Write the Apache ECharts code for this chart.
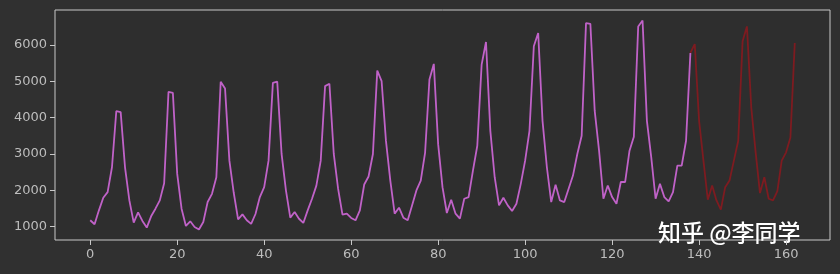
<!DOCTYPE html>
<html>
<head>
<meta charset="utf-8">
<script src="https://cdn.jsdelivr.net/npm/echarts@6/dist/echarts.min.js"></script>
<style>
html,body{margin:0;padding:0;background:#303030;}
#c{width:840px;height:274px;}
</style>
</head>
<body>
<div id="c"></div>
<script>
// observed series (index 0..138)
const trainValues = [
1178,1068,1451,1797,1952,2635,4180,4152,2635,1724,
1114,1396,1160,977,1287,1496,1724,2197,4710,4681,
2453,1496,1023,1150,995,923,1130,1680,1905,2360,
4985,4800,2817,1934,1205,1340,1180,1080,1350,1815,
2090,2817,4955,4990,3000,2000,1250,1405,1220,1105,
1450,1770,2130,2817,4865,4930,3000,2040,1332,1360,
1241,1178,1451,2161,2380,2999,5290,5000,3360,2270,
1360,1524,1250,1178,1587,1997,2270,3040,5050,5476,
3270,2088,1378,1742,1360,1223,1770,1815,2543,3226,
5458,6077,3637,2361,1587,1797,1587,1433,1633,2179,
2817,3637,5959,6323,3910,2635,1679,2152,1724,1679,
2043,2407,2999,3500,6597,6578,4183,3090,1770,2134,
1815,1633,2230,2230,3090,3473,6506,6670,3910,2908,
1770,2179,1815,1697,1952,2680,2680,3363,5776
];
// second series (index 138..162)
const testStart = 138;
const testValues = [
5776,6022,3910,2817,1742,2134,1724,1469,2088,2270,
2817,3363,6096,6506,4270,3050,1924,2361,1770,1724,
1979,2817,3045,3455,6050
];
const xTicks = [0,20,40,60,80,100,120,140,160];
const yTicks = [1000,2000,3000,4000,5000,6000];

const trainData = trainValues.map((v,i)=>[i,v]);
const testData = testValues.map((v,i)=>[testStart+i,v]);

const lastIndex = testStart + testValues.length - 1;
const allVals = trainValues.concat(testValues);
const yMinD = Math.min(...allVals), yMaxD = Math.max(...allVals);
const yPad = (yMaxD - yMinD) * 0.05;
const xPad = lastIndex * 0.05;

const chart = echarts.init(document.getElementById('c'));
const labelStyle = {color:'#bdbdbd', fontFamily:'DejaVu Sans', fontSize:13, formatter:(v)=>String(Math.round(v))};
chart.setOption({
  backgroundColor:'#303030',
  animation:false,
  grid:{left:55,right:10,top:10,bottom:34,show:true,borderColor:'#c8c8c8',borderWidth:1,backgroundColor:'#2e2e2e',containLabel:false},
  xAxis:{
    type:'value', min:-xPad, max:lastIndex + xPad,
    axisLine:{show:false, onZero:false},
    splitLine:{show:false},
    axisTick:{show:true, inside:false, customValues:xTicks, length:5, lineStyle:{color:'#c8c8c8'}},
    axisLabel:{customValues:xTicks, margin:8, ...labelStyle}
  },
  yAxis:{
    type:'value', min:yMinD - yPad, max:yMaxD + yPad,
    axisLine:{show:false, onZero:false},
    splitLine:{show:false},
    axisTick:{show:true, inside:false, customValues:yTicks, length:5, lineStyle:{color:'#c8c8c8'}},
    axisLabel:{customValues:yTicks, margin:8, ...labelStyle}
  },
  series:[
    {type:'line', data:trainData, symbol:'none', lineStyle:{color:'#c062c8', width:1.8}},
    {type:'line', data:testData, symbol:'none', lineStyle:{color:'#7e1b20', width:1.8}}
  ],
  graphic:[{
    type:'text', left:658, top:221,
    style:{text:'知乎 @李同学', fill:'#ffffff', font:'500 23px "Noto Sans CJK SC"',
      shadowColor:'rgba(0,0,0,0.6)', shadowBlur:2, shadowOffsetX:1, shadowOffsetY:1}
  }]
});
</script>
</body>
</html>
